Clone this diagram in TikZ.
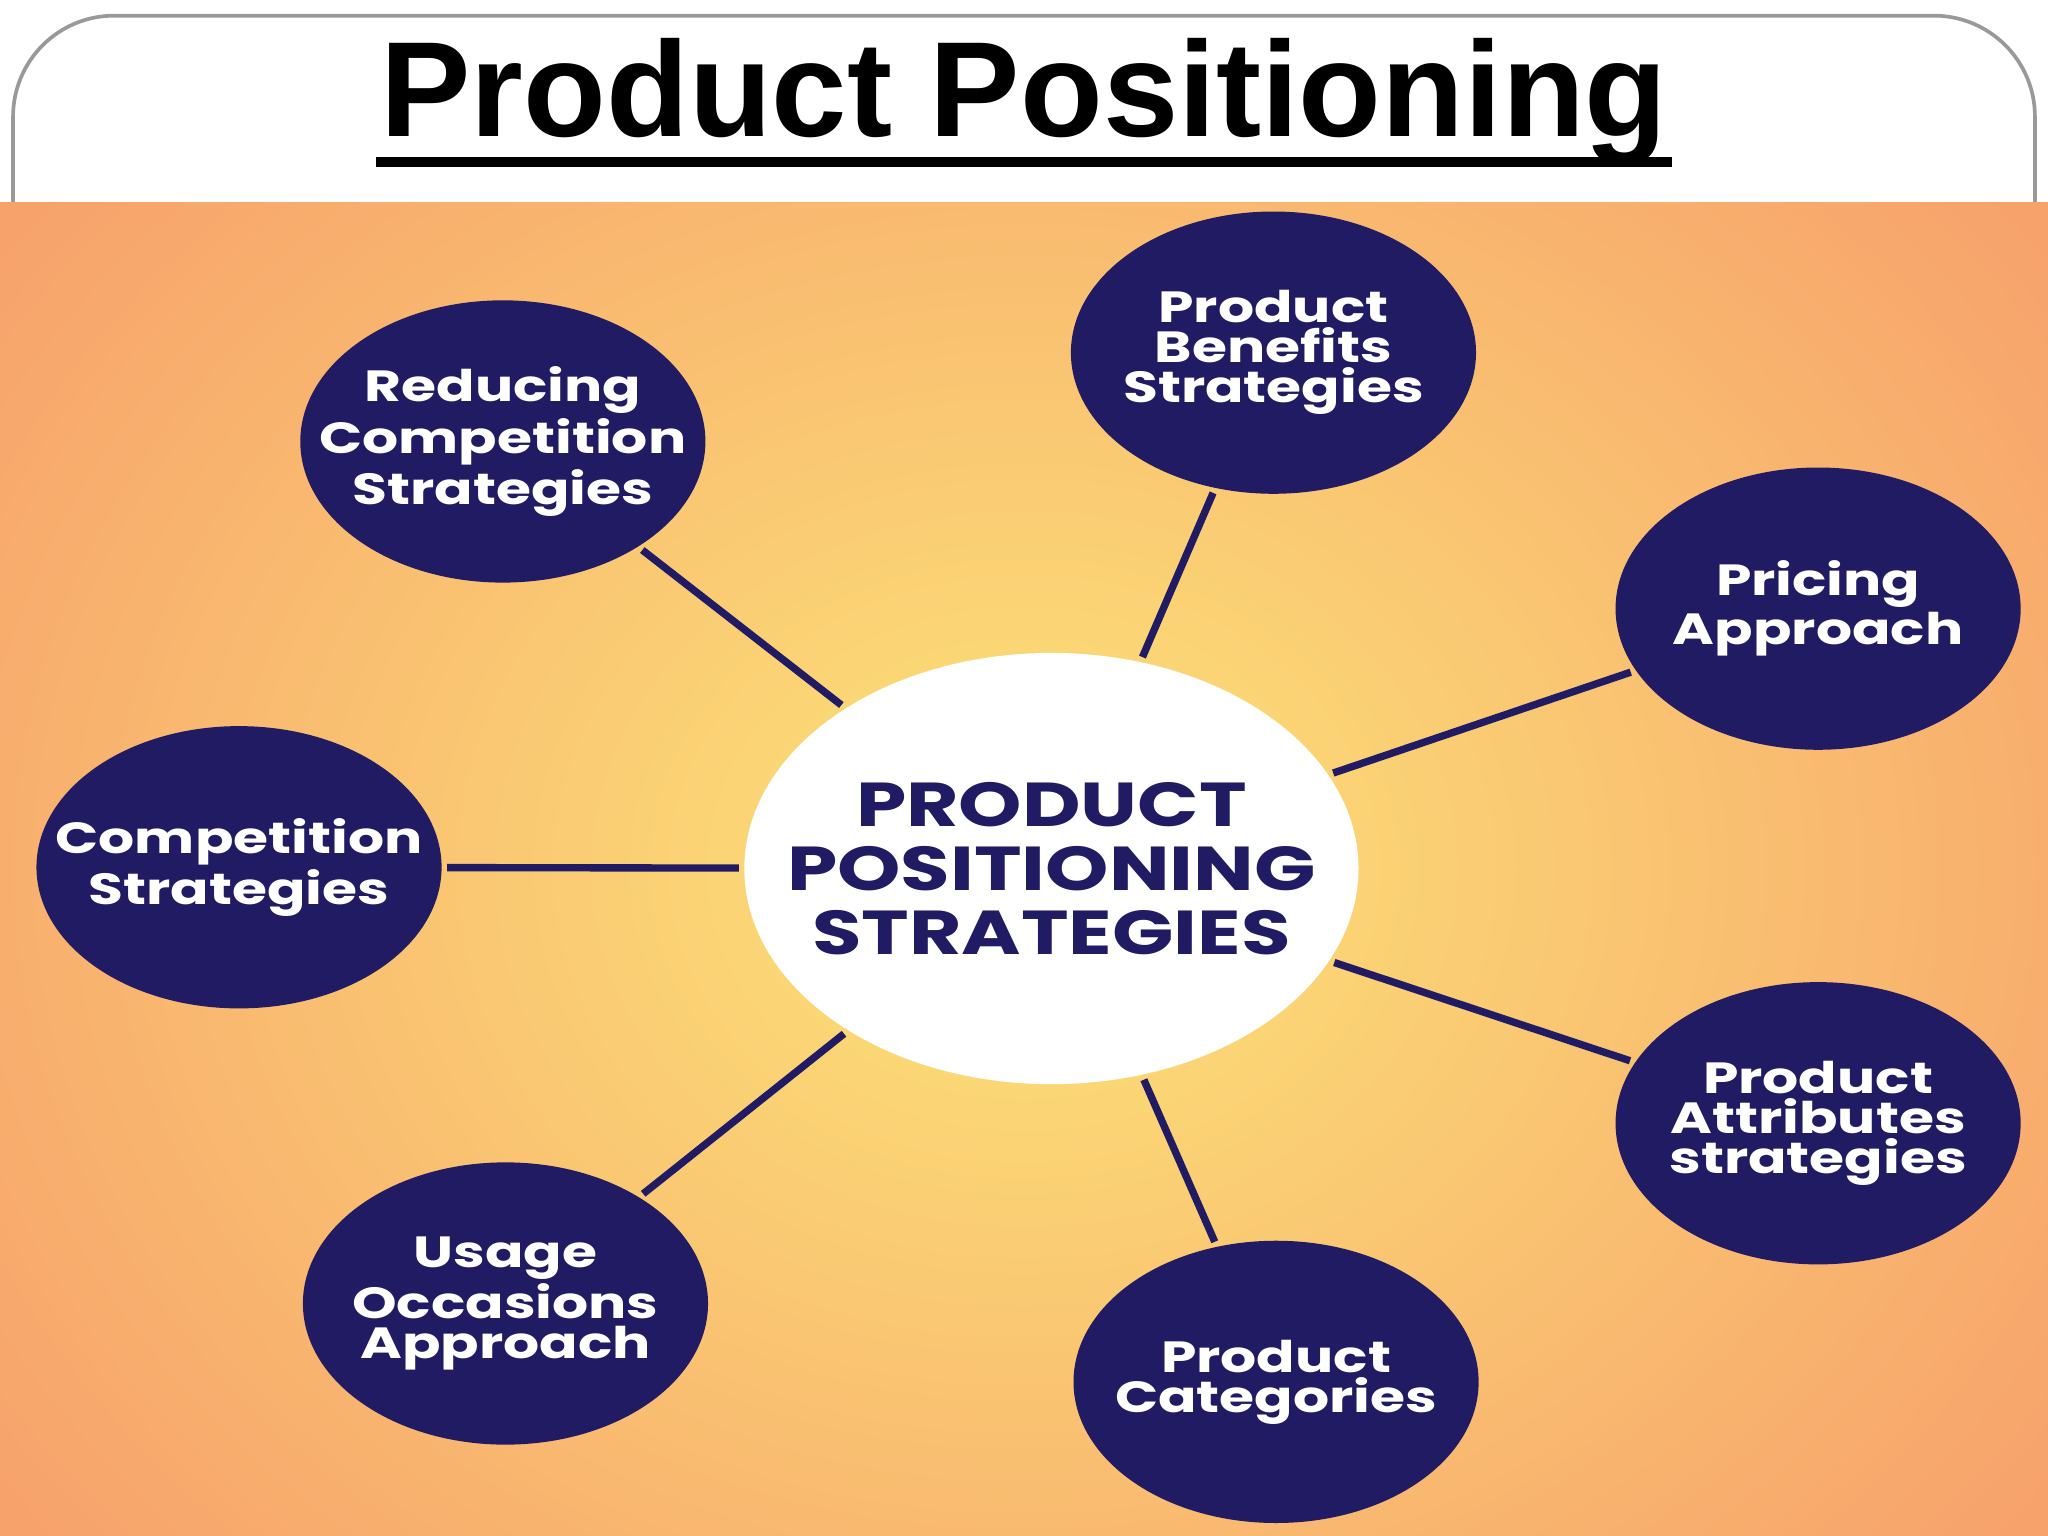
\documentclass[tikz,border=0pt]{standalone}
\usepackage{fontspec}
\setmainfont{Liberation Sans}
\newfontfamily\circfont[FakeStretch=1.3]{Poppins}
\usetikzlibrary{shapes.geometric}
\definecolor{navy}{RGB}{33,27,99}
\definecolor{inyel}{RGB}{252,228,120}
\definecolor{outor}{RGB}{246,150,105}
\begin{document}
\begin{tikzpicture}[x=0.01cm,y=-0.01cm,
  sat/.style={ellipse,fill=navy,minimum width=3.1cm,minimum height=2.16cm,inner xsep=-1cm,inner ysep=0pt,
    text=white,align=center,font=\circfont\bfseries\fontsize{9.5}{8.7}\selectfont},
  link/.style={draw=navy,line width=1.6pt,shorten <=1pt,shorten >=1pt}]
\useasboundingbox (0,0) rectangle (1568,1176);
\fill[white] (0,0) rectangle (1568,1176);
\draw[gray!80,line width=0.8pt,rounded corners=22pt] (10,1176) -- (10,12) -- (1558,12) -- (1558,1176);
\begin{scope}
\clip (0,155) rectangle (1568,1176);
\fill[outor] (0,155) rectangle (1568,1176);
\shade[inner color=inyel,outer color=outor] (784,665) ellipse [x radius=1150,y radius=950];
\end{scope}
\node[font=\bfseries\fontsize{29.5}{32}\selectfont] (title) at (784,78) {Product Positioning};
\draw[line width=2.2pt] (288,124) -- (1280,124);
\node[ellipse,fill=white,minimum width=4.7cm,minimum height=3.3cm,inner xsep=-1cm,inner ysep=0pt,text=navy,align=center,
  font=\circfont\bfseries\fontsize{13.5}{14}\selectfont] (c) at (805,665) {PRODUCT\\POSITIONING\\STRATEGIES};
\node[sat] (r) at (385,338) {Reducing\\Competition\\Strategies};
\node[sat] (b) at (975,270) {Product\\Benefits\\Strategies};
\node[sat] (p) at (1392,466) {Pricing\\Approach};
\node[sat] (s) at (183,664) {Competition\\Strategies};
\node[sat] (a) at (1392,860) {Product\\Attributes\\strategies};
\node[sat] (u) at (387,998) {Usage\\Occasions\\Approach};
\node[sat] (k) at (977,1058) {Product\\Categories};
\foreach \n in {r,b,p,s,a,u,k} \draw[link] (c) -- (\n);
\end{tikzpicture}
\end{document}
